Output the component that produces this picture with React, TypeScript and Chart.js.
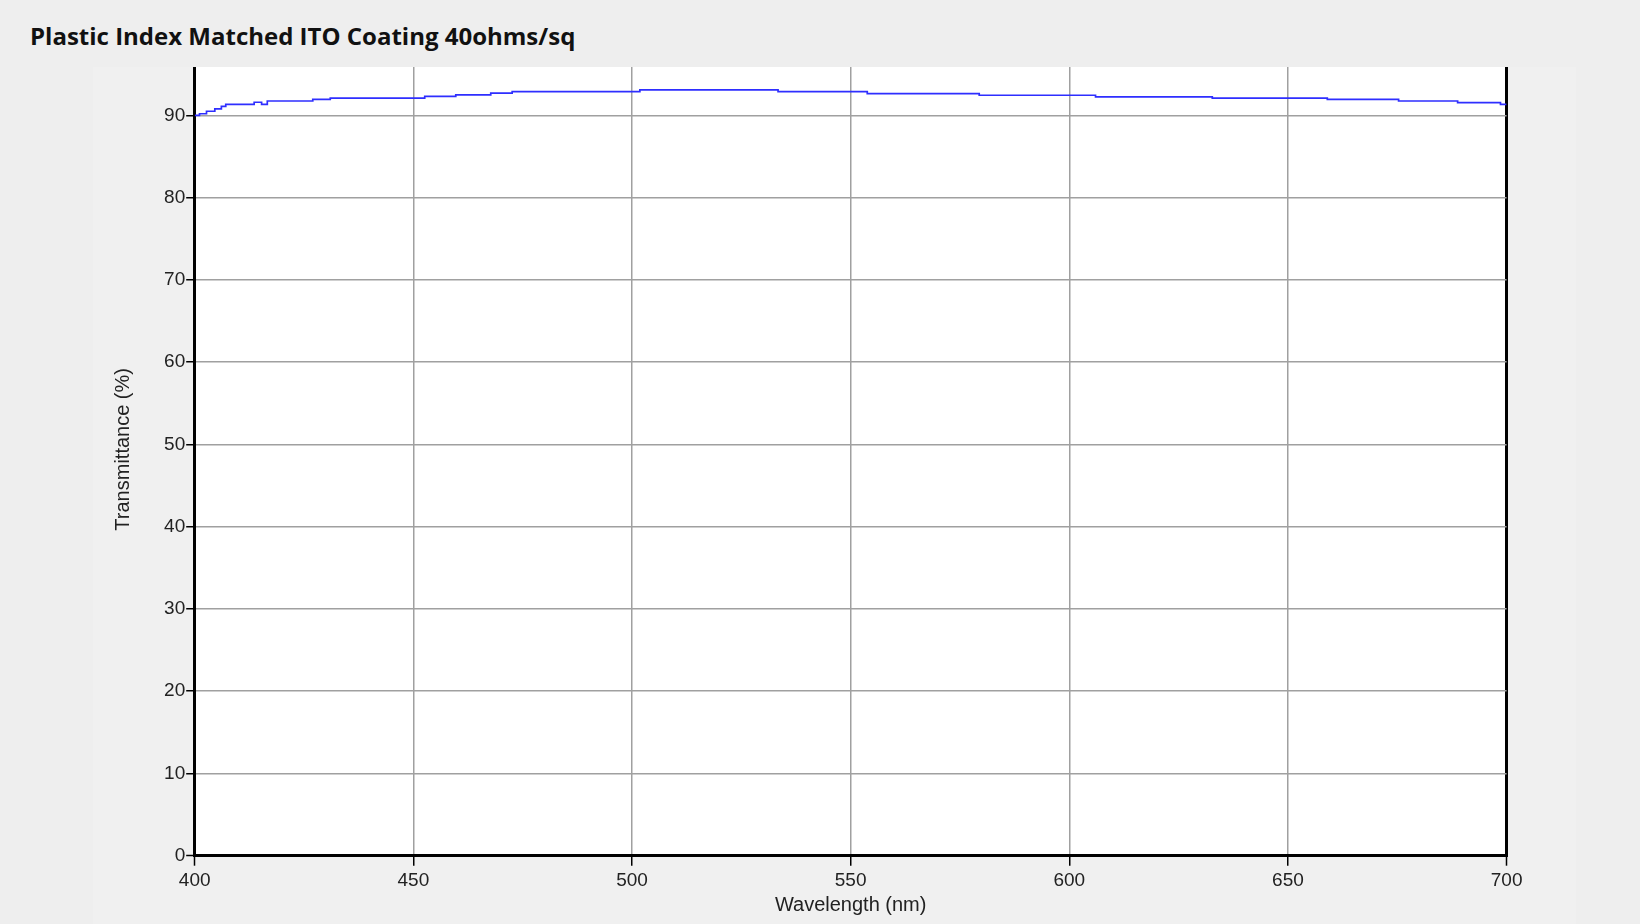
import React, { useEffect, useRef } from "react";
import { Chart, registerables } from "chart.js";

Chart.register(...registerables);

const TITLE = "Plastic Index Matched ITO Coating 40ohms/sq";
const X_TITLE = "Wavelength (nm)";
const Y_TITLE = "Transmittance (%)";

// step positions (nm) and the transmittance level (%) that starts there
const wavelengths = [
  400, 401.1, 402.7, 404.6, 406.1, 407.1, 413.6, 415.3, 416.6, 427.0, 431.0,
  452.6, 459.7, 467.7, 472.6, 501.8, 533.4, 553.8, 579.4, 606.0, 632.7, 659.0,
  675.3, 688.8, 698.6, 700,
];
const transmittance = [
  90.0, 90.2, 90.5, 90.8, 91.1, 91.35, 91.6, 91.35, 91.75, 91.95, 92.1,
  92.3, 92.5, 92.7, 92.9, 93.1, 92.9, 92.65, 92.45, 92.25, 92.1, 91.95,
  91.75, 91.55, 91.35, 91.35,
];

const xTicks = [400, 450, 500, 550, 600, 650, 700];
const yTicks = [0, 10, 20, 30, 40, 50, 60, 70, 80, 90];
const X_MIN = 400;
const X_MAX = 700;
const Y_MIN = 0;
const Y_MAX = 98.8;

const FONT = "'Liberation Sans', Arial, sans-serif";

export default function App() {
  const canvasRef = useRef<HTMLCanvasElement>(null);

  useEffect(() => {
    if (!canvasRef.current) return;
    const plotBg = {
      id: "plotBg",
      beforeDraw(chart: any) {
        const { ctx, chartArea: a } = chart;
        ctx.save();
        ctx.fillStyle = "#ffffff";
        ctx.fillRect(a.left, a.top, a.right - a.left, a.bottom - a.top);
        ctx.restore();
      },
    };

    const chart = new Chart(canvasRef.current, {
      type: "line",
      data: {
        datasets: [
          {
            data: wavelengths.map((x, i) => ({ x, y: transmittance[i] })),
            borderColor: "#2e2eff",
            borderWidth: 1.7,
            pointRadius: 0,
            stepped: "before",
            fill: false,
          },
        ],
      },
      options: {
        animation: false,
        responsive: true,
        maintainAspectRatio: false,
        layout: { padding: { left: 0, right: 69.4, top: 0, bottom: 0 } },
        plugins: {
          legend: { display: false },
          tooltip: { enabled: false },
        },
        scales: {
          x: {
            type: "linear",
            min: X_MIN,
            max: X_MAX,
            afterBuildTicks: (s: any) => {
              s.ticks = xTicks.map((v) => ({ value: v }));
            },
            afterFit: (s: any) => {
              s.height = 68.3;
              s.paddingLeft = 0;
              s.paddingRight = 0;
            },
            grid: {
              color: (c: any) =>
                c.tick && (c.tick.value === X_MIN || c.tick.value === X_MAX)
                  ? "#000000"
                  : "#a0a0a0",
              lineWidth: (c: any) =>
                c.tick && (c.tick.value === X_MIN || c.tick.value === X_MAX) ? 3 : 1.5,
              tickColor: "#000000",
              tickLength: 10,
              tickWidth: 1.5,
            },
            border: { color: "#000000", width: 3 },
            ticks: {
              padding: 4,
              color: "#222222",
              font: { family: FONT, size: 19 },
              maxRotation: 0,
              autoSkip: false,
            },
            title: {
              display: true,
              text: X_TITLE,
              color: "#222222",
              font: { family: FONT, size: 20 },
              padding: { top: 0, bottom: 6.6 },
            },
          },
          y: {
            type: "linear",
            min: Y_MIN,
            max: Y_MAX,
            afterBuildTicks: (s: any) => {
              s.ticks = yTicks.map((v) => ({ value: v }));
            },
            afterFit: (s: any) => {
              s.width = 101.7;
              s.paddingTop = 0;
              s.paddingBottom = 0;
            },
            grid: {
              color: (c: any) =>
                c.tick && c.tick.value === Y_MIN ? "#000000" : "#a0a0a0",
              lineWidth: (c: any) => (c.tick && c.tick.value === Y_MIN ? 3 : 1.5),
              tickColor: "#000000",
              tickLength: 8.5,
              tickWidth: 1.5,
            },
            border: { color: "#000000", width: 3 },
            ticks: {
              padding: 1,
              color: "#222222",
              font: { family: FONT, size: 19 },
              autoSkip: false,
            },
            title: {
              display: true,
              text: Y_TITLE,
              color: "#222222",
              font: { family: FONT, size: 20 },
              padding: { top: 18.6, bottom: 0 },
            },
          },
        },
      },
      plugins: [plotBg],
    } as any);

    return () => chart.destroy();
  }, []);

  return (
    <div
      style={{
        position: "fixed",
        left: 0,
        top: 0,
        width: 1640,
        height: 924,
        background: "#eeeeee",
        overflow: "hidden",
      }}
    >
      <div
        style={{
          position: "absolute",
          left: 30,
          top: 24.4,
          fontFamily: "'Open Sans', sans-serif",
          fontWeight: 700,
          fontSize: 24,
          lineHeight: "24px",
          color: "#111111",
          whiteSpace: "nowrap",
        }}
      >
        {TITLE}
      </div>
      <div
        style={{
          position: "absolute",
          left: 93,
          top: 67,
          width: 1483,
          height: 857,
          background: "#f0f0f0",
          overflow: "hidden",
        }}
      >
        <div
          style={{
            position: "absolute",
            left: 0,
            top: -24,
            width: 1483,
            height: 881,
          }}
        >
          <canvas ref={canvasRef} />
        </div>
      </div>
    </div>
  );
}
